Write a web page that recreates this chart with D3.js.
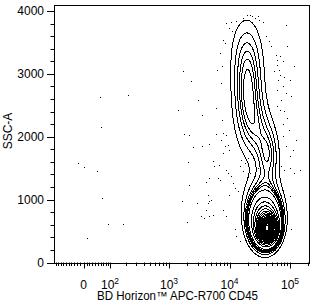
<!DOCTYPE html>
<html><head><meta charset="utf-8">
<script src="https://cdn.jsdelivr.net/npm/d3@7"></script>
<style>
body{margin:0;background:#fff}
svg{display:block}
text{font-family:"Liberation Sans",Arial,sans-serif;fill:#000}
</style>
</head><body>
<svg id="chart" width="313" height="306"></svg>
<script>
// ---------------- data ----------------
const xTitle = "BD Horizon\u2122 APC-R700 CD45";
const yTitle = "SSC-A";
const xMajorTicks = [0, 100, 1000, 10000, 100000];
const xMajorExp   = [null, "2", "3", "4", "5"];
const yMajorTicks = [0, 1000, 2000, 3000, 4000];

// population components (CD45 centre, SSC centre, spread in decades, spread in SSC, share of events)
const popCD45   = [41700, 38600, 36000, 20200, 18740, 29600, 43300];
const popSSC    = [549,   645,   900,   2663,  3379,  2107,  1709];
const popSdDec  = [0.075, 0.13,  0.20,  0.16,  0.18,  0.15,  0.12];
const popSdSSC  = [110,   210,   330,   520,   400,   320,   300];
const popShare  = [0.42,  0.28,  0.09,  0.11,  0.035, 0.03,  0.035];

// probability contour levels (fraction of events enclosed)
const contourLevels = [0.96,0.92,0.88,0.84,0.80,0.76,0.72,0.68,0.64,0.60,0.56,0.52,0.48,0.44,0.40,0.36,0.32,0.28,0.24,0.20,0.16,0.12,0.08,0.04];

// outlier events drawn as dots [CD45, SSC]
const outliers = [
[1722,3045],[2338,2881],[58,2627],[225,2658],[3050,2579],[1426,2420],[3548,2340],[62,2150],
[1790,2038],[2166,2022],[2523,1832],[3548,1848],[4634,1879],[-15,1577],[3,1514],[48,1450],
[2084,1593],[4634,1339],[4138,1275],[2166,1227],[68,1021],[4467,1068],[1660,973],[2938,941],
[4467,941],[4634,967],[4138,830],[3420,735],[3830,703],[4634,735],[2006,639],[93,607],[185,607],[12,385],
[19680,3924],[21830,3935],[23820,3908],[16910,3883],[27100,3883],[29920,3908],[31100,3856],[36230,3813],
[13150,3829],[10870,3813],[8993,3803],[9931,3724],[11120,3670],[7907,3538],[8750,3485],[7161,3326],
[7603,3113],[6383,3061],[41210,3590],[45500,3511],[49880,3431],[88130,3776],[90190,3431],[58740,3299],
[68390,3272],[61700,3220],[77480,3193],[61700,3140],[66550,3061],[56500,3034],[70200,2981],[82640,2945],
[64100,2902],[77480,2795],[61700,2743],[88130,2690],[72930,2584],[62650,2477],[70200,2425],[82640,2398],
[91590,2293],[79560,2202],[97300,2107],[6138,2452],[7430,2849],[7727,2266],[7907,2054],[8993,2027],
[6138,2032],[100000,2902],[120900,3113],[103900,2636],
[7430,1948],[8433,1841],[9550,1868],[10190,1789],[7907,1736],[5395,1603],[5754,1523],[6966,1550],
[6531,1339],[7161,1312],[8993,1471],[9550,1418],[10870,1364],[11560,1259],[12330,1180],[13970,1126],
[10190,1073],[5081,994],[5395,755],[7907,835],[8993,728],[12330,517],[13150,410],[14920,331],
[72930,1523],[82640,1471],[100000,1498],[120900,1418],[146300,1471],[100000,1682],[113500,1789],
[88130,1841],[129100,1948],[77480,2000],[106700,517],[100000,1046],[15920,1630],[18040,1577],
[20450,1657],[14920,1523],[16910,1444],[21830,1418],[29920,1498]
];

// ---------------- layout ----------------
const svg = d3.select("#chart");
const L = 54, R = 310, T = 5, Bm = 262.5;

// biexponential-like display transform
const LIN = 50;
const tf = v => Math.asinh(v / (2 * LIN)) / Math.LN10;
const tfInv = t => 2 * LIN * Math.sinh(t * Math.LN10);
const xAnchorVals = [-110, 0, 100, 1000, 10000, 100000, 214000];
const xAnchorPos  = [L, 83.5, 110, 169, 229.5, 290, R];
const xs = d3.scaleLinear().domain(xAnchorVals.map(tf)).range(xAnchorPos);
const X = v => xs(tf(v));
const ys = d3.scaleLinear().domain([0, 4096]).range([Bm, T]);

// ---------------- density grid & probability contours ----------------
const W = Math.round(R - L), H = Math.round(Bm - T);
const values = new Float64Array(W * H);
const lc = popCD45.map(Math.log10);
for (let j = 0; j < H; j++) {
  const s = ys.invert(T + j + 0.5);
  for (let i = 0; i < W; i++) {
    const v = tfInv(xs.invert(L + i + 0.5));
    const lv = Math.log10(Math.max(v, 1));
    let d = 0;
    for (let k = 0; k < lc.length; k++) {
      const a = (lv - lc[k]) / popSdDec[k], b = (s - popSSC[k]) / popSdSSC[k];
      d += popShare[k] / (popSdDec[k] * popSdSSC[k]) * Math.exp(-0.5 * (a * a + b * b));
    }
    values[i + j * W] = d;
  }
}
const sorted = Float64Array.from(values).sort().reverse();
const total = d3.sum(sorted);
const thresholds = [];
{
  let cum = 0, idx = 0;
  const lv = contourLevels.slice().sort((a, b) => a - b);
  for (let k = 0; k < sorted.length && idx < lv.length; k++) {
    cum += sorted[k];
    while (idx < lv.length && cum >= lv[idx] * total) { thresholds.push(sorted[k]); idx++; }
  }
}
thresholds.sort((a, b) => a - b);
const contours = d3.contours().size([W, H]).thresholds(thresholds)(Array.from(values));

const plot = svg.append("g");
plot.append("g").attr("transform", `translate(${L},${T})`)
  .selectAll("path").data(contours).join("path")
  .attr("d", d3.geoPath())
  .attr("fill", "none").attr("stroke", "#000").attr("stroke-width", 1)
  .attr("shape-rendering", "crispEdges");

plot.append("g").selectAll("rect").data(outliers).join("rect")
  .attr("x", d => Math.floor(X(d[0])))
  .attr("y", d => Math.floor(ys(d[1])))
  .attr("width", 1).attr("height", 1).attr("fill", "#000")
  .attr("shape-rendering", "crispEdges");

// ---------------- frame ----------------
svg.append("rect").attr("x", L + 0.5).attr("y", T + 0.5)
  .attr("width", R - L - 1).attr("height", Bm - T)
  .attr("fill", "none").attr("stroke", "#000").attr("shape-rendering", "crispEdges");

// ---------------- Y axis ----------------
const yAxis = svg.append("g");
const yMinor = d3.range(0, 4001, 200).filter(v => v % 1000 !== 0);
yAxis.selectAll("line.mj").data(yMajorTicks).join("line")
  .attr("x1", L - 7).attr("x2", L).attr("y1", d => Math.round(ys(d)) + 0.5).attr("y2", d => Math.round(ys(d)) + 0.5)
  .attr("stroke", "#000");
yAxis.selectAll("line.mn").data(yMinor).join("line")
  .attr("x1", L - 3.5).attr("x2", L).attr("y1", d => Math.round(ys(d)) + 0.5).attr("y2", d => Math.round(ys(d)) + 0.5)
  .attr("stroke", "#000");
yAxis.selectAll("text").data(yMajorTicks).join("text")
  .attr("x", L - 10).attr("y", d => ys(d)).attr("dy", "0.36em")
  .attr("text-anchor", "end").attr("font-size", 12).text(d => d);

// ---------------- X axis ----------------
const xAxis = svg.append("g");
const xMinor = [];
for (let m = 1; m <= 9; m++) { xMinor.push(m * 10); xMinor.push(-m * 10); }
xMinor.push(-100);
for (const dec of [100, 1000, 10000, 100000]) for (let m = 2; m <= 9; m++) if (m * dec <= 214000) xMinor.push(m * dec);
xAxis.selectAll("line.mn").data(xMinor).join("line")
  .attr("x1", d => Math.round(X(d)) + 0.5).attr("x2", d => Math.round(X(d)) + 0.5)
  .attr("y1", Bm).attr("y2", Bm + 3.5).attr("stroke", "#000");
xAxis.selectAll("line.mj").data(xMajorTicks).join("line")
  .attr("x1", d => Math.round(X(d)) + 0.5).attr("x2", d => Math.round(X(d)) + 0.5)
  .attr("y1", Bm).attr("y2", Bm + 6).attr("stroke", "#000");
const xl = xAxis.selectAll("text").data(xMajorTicks).join("text")
  .attr("x", d => X(d)).attr("y", 289).attr("text-anchor", "middle").attr("font-size", 12);
xl.each(function (d, i) {
  const t = d3.select(this);
  if (xMajorExp[i] === null) { t.text("0"); return; }
  t.append("tspan").text("10");
  t.append("tspan").attr("dy", -5.5).attr("font-size", 8.5).text(xMajorExp[i]);
});

// ---------------- titles ----------------
svg.append("text").attr("x", 177.5).attr("y", 299.5).attr("text-anchor", "middle")
  .attr("font-size", 12).attr("textLength", 161).attr("lengthAdjust", "spacingAndGlyphs").text(xTitle);
svg.append("text").attr("transform", "translate(12,131) rotate(-90)")
  .attr("text-anchor", "middle").attr("font-size", 12).text(yTitle);
</script>
</body></html>
